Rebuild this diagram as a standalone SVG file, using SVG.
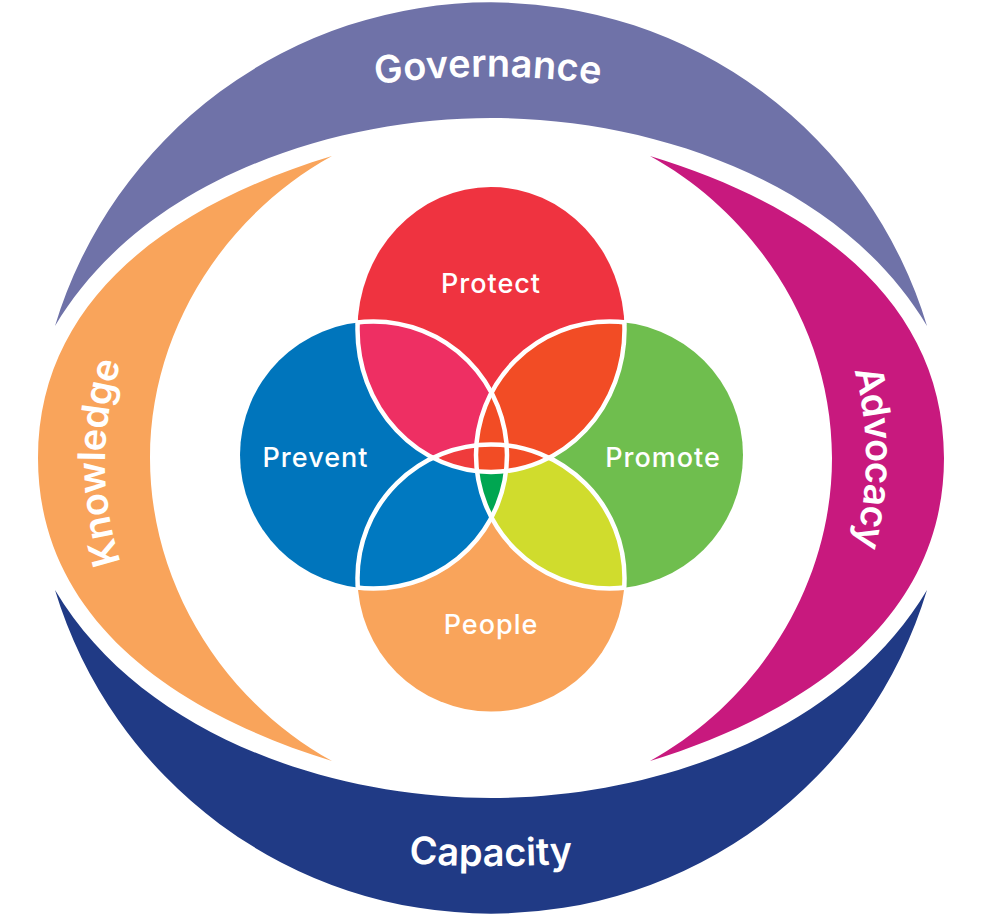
<svg xmlns="http://www.w3.org/2000/svg" width="1003" height="921" viewBox="0 0 1003 921">
<style>
.t{font-family:"Inter","Open Sans","Liberation Sans",sans-serif;fill:#fff;text-anchor:middle}
.big{font-size:38px;font-weight:600}
.small{font-size:27px;font-weight:500;letter-spacing:1px}
.ring{fill:none;stroke:#fff;stroke-width:4.5}
</style>
<defs>
<clipPath id="cProtect"><ellipse cx="491" cy="329.500" rx="133.500" ry="142.500"/></clipPath>
<clipPath id="cPrevent"><circle cx="373.5" cy="455" r="133.5"/></clipPath>
<clipPath id="cPromote"><circle cx="609.5" cy="455" r="133.5"/></clipPath>
<clipPath id="cPeople"><circle cx="491" cy="578" r="133.5"/></clipPath>
<clipPath id="notProtect"><circle cx="373.5" cy="455" r="135.5"/><circle cx="609.5" cy="455" r="135.5"/><circle cx="491" cy="578" r="135.5"/></clipPath>
<clipPath id="notPrevent"><ellipse cx="491" cy="329.500" rx="135.500" ry="144.500"/><circle cx="609.5" cy="455" r="135.5"/><circle cx="491" cy="578" r="135.5"/></clipPath>
<clipPath id="notPromote"><ellipse cx="491" cy="329.500" rx="135.500" ry="144.500"/><circle cx="373.5" cy="455" r="135.5"/><circle cx="491" cy="578" r="135.5"/></clipPath>
<clipPath id="notPeople"><ellipse cx="491" cy="329.500" rx="135.500" ry="144.500"/><circle cx="373.5" cy="455" r="135.5"/><circle cx="609.5" cy="455" r="135.5"/></clipPath>
<path id="pGov" d="M358 87Q488 66 618 87"/>
<path id="pCap" d="M401 863Q491 869 581 863"/>
<path id="pKno" d="M125 575Q85 462 125 350"/>
<path id="pAdv" d="M851 359Q881 458 851 557"/>
</defs>
<rect width="1003" height="921" fill="#fff"/>
<g id="governance">
<path fill="#6F72A8" d="M55 326A455.5 455.5 0 0 1 927 326C840 180 650 118 491 118C332 118 142 180 55 326Z"/>
<text class="t big"><textPath href="#pGov" startOffset="50%" textLength="225">Governance</textPath></text>
</g>
<g id="capacity">
<path fill="#203A85" d="M55 590A455.5 455.5 0 0 0 927 590C840 736 650 798 491 798C332 798 142 736 55 590Z"/>
<text class="t big"><textPath href="#pCap" startOffset="50%" textLength="164">Capacity</textPath></text>
</g>
<g id="knowledge">
<path fill="#F9A45B" d="M332 156C170 205 38 300 38 458C38 616 170 711 332 761C225 702 150 586 150 458C150 330 225 215 332 156Z"/>
<text class="t big"><textPath href="#pKno" startOffset="50%" textLength="203">Knowledge</textPath></text>
</g>
<g id="advocacy">
<path fill="#C8197E" d="M650 156C812 205 944 300 944 458C944 616 812 711 650 761C757 702 832 586 832 458C832 330 757 215 650 156Z"/>
<text class="t big"><textPath href="#pAdv" startOffset="50%" textLength="178">Advocacy</textPath></text>
</g>
<g id="protect"><ellipse cx="491" cy="329.500" rx="133.500" ry="142.500" fill="#EF3340"/></g>
<g id="prevent"><circle cx="373.5" cy="455" r="133.5" fill="#0075BC"/></g>
<g id="promote"><circle cx="609.5" cy="455" r="133.5" fill="#6FBE4E"/></g>
<g id="people"><circle cx="491" cy="578" r="133.5" fill="#F9A45B"/></g>
<g id="overlaps">
<g clip-path="url(#cProtect)"><circle cx="373.5" cy="455" r="133.5" fill="#EE2F63"/><circle cx="609.5" cy="455" r="133.5" fill="#F24C25"/></g>
<g clip-path="url(#cPeople)"><circle cx="373.5" cy="455" r="133.5" fill="#0079C1"/><circle cx="609.5" cy="455" r="133.5" fill="#D0DC2D"/><g clip-path="url(#cPrevent)"><circle cx="609.5" cy="455" r="133.5" fill="#00A651"/></g><g clip-path="url(#cProtect)"><circle cx="373.5" cy="455" r="133.5" fill="#EF3B3C"/><circle cx="609.5" cy="455" r="133.5" fill="#F24C25"/></g></g>
</g>
<g id="rings">
<ellipse class="ring" cx="491" cy="329.500" rx="133.500" ry="142.500" clip-path="url(#notProtect)"/>
<circle class="ring" cx="373.5" cy="455" r="133.5" clip-path="url(#notPrevent)"/>
<circle class="ring" cx="609.5" cy="455" r="133.5" clip-path="url(#notPromote)"/>
<circle class="ring" cx="491" cy="578" r="133.5" clip-path="url(#notPeople)"/>
</g>
<g id="labels">
<text class="t small" x="491" y="293">Protect</text>
<text class="t small" x="315.500" y="467">Prevent</text>
<text class="t small" x="663" y="467">Promote</text>
<text class="t small" x="491" y="634">People</text>
</g>
</svg>
